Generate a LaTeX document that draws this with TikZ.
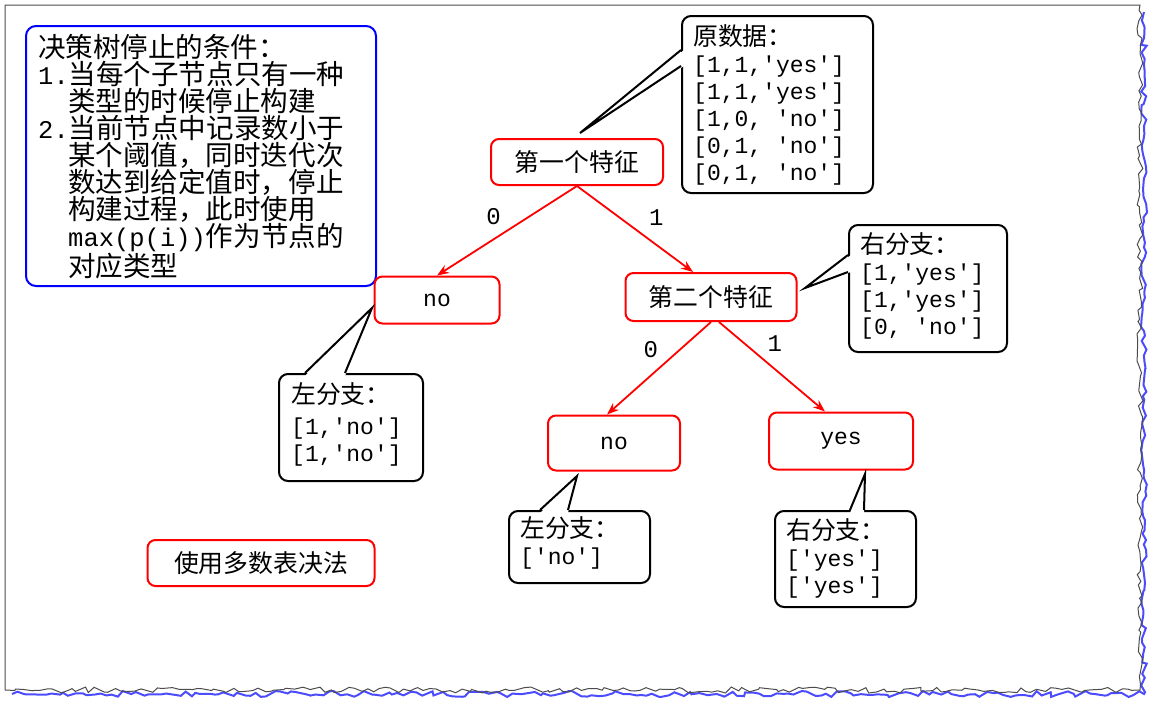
\documentclass[tikz,border=0pt]{standalone}
\usepackage{fontspec}
\setmainfont{Liberation Mono}
\newfontfamily\cjk{Noto Sans CJK SC}[Scale=1.08]
\usetikzlibrary{decorations.pathmorphing,arrows.meta}
\newcommand{\zh}[1]{{\cjk #1}}
\newcommand{\q}{\textquotesingle}
\begin{document}
\begin{tikzpicture}[x=1pt,y=-1pt,
  redbox/.style={draw=red,line width=2pt,rounded corners=8pt,fill=white,font=\fontsize{23}{26}\selectfont},
  callout/.style={draw=black,line width=2pt,rounded corners=9pt,fill=white},
  ctext/.style={anchor=north west,align=left,inner sep=0pt,font=\fontsize{23}{27}\selectfont},
  edge/.style={draw=red,line width=1.8pt,-{Stealth[length=12pt,width=9pt]}},
  elab/.style={font=\fontsize{24}{26}\selectfont}]
\useasboundingbox (0,0) rectangle (1158,715);
\begin{scope}[shift={(4,4)}]
\draw[blue!70,line width=2pt,decorate,decoration={random steps,segment length=6,amplitude=3}] (1140,8) -- (1140,690) -- (8,690);
\end{scope}
\draw[gray!60!black,line width=1pt] (5,690) -- (5,5) -- (1140,5)
  decorate[decoration={random steps,segment length=6,amplitude=3}]{-- (1140,690) -- (5,690)};

% left note
\node[draw=blue,line width=2pt,rounded corners=10pt,minimum width=350,minimum height=260,anchor=north west] (note) at (25,25) {};
\node[ctext,font=\fontsize{25.5}{27}\selectfont] (notetext) at (38,34) {\zh{决策树停止的条件：}\\
1.\zh{当每个子节点只有一种}\\
\hspace*{30pt}\zh{类型的时候停止构建}\\
2.\zh{当前节点中记录数小于}\\
\hspace*{30pt}\zh{某个阈值，同时迭代次}\\
\hspace*{30pt}\zh{数达到给定值时，停止}\\
\hspace*{30pt}\zh{构建过程，此时使用}\\
\hspace*{30pt}max(p(i))\zh{作为节点的}\\
\hspace*{30pt}\zh{对应类型}};

% tree nodes
\node[redbox,minimum width=172,minimum height=46] (f1) at (577,162) {\zh{第一个特征}};
\node[redbox,minimum width=125,minimum height=47] (no1) at (437,300) {no};
\node[redbox,minimum width=171,minimum height=48] (f2) at (711,297) {\zh{第二个特征}};
\node[redbox,minimum width=132,minimum height=55] (no2) at (614,443) {no};
\node[redbox,minimum width=144,minimum height=57] (yes) at (841,441) {yes};
\node[redbox,minimum width=227,minimum height=46] (vote) at (261,563) {\zh{使用多数表决法}};

\draw[edge] (f1.south) -- (no1.north) node[elab,pos=0.5,above left=2pt] (l0) {0};
\draw[edge] (f1.south) -- ([xshift=-18]f2.north) node[elab,pos=0.55,above right=4pt] (l1) {1};
\draw[edge] (f2.south) -- ([xshift=-7]no2.north) node[elab,pos=0.45,above left=2pt] (l2) {0};
\draw[edge] ([xshift=8]f2.south) -- ([xshift=-16]yes.north) node[elab,pos=0.4,above right=2pt] (l3) {1};

% callouts
\node[callout,minimum width=191,minimum height=177,anchor=north west] (orig) at (681,15) {};
\coordinate (origtip) at (580,133);
\fill[white] (684,50) -- (origtip) -- (684,66) -- cycle;
\draw[line width=2pt] (681,50) -- (origtip) -- (681,66);
\node[ctext] (origtext) at (693,24) {\zh{原数据：}\\{}[1,1,\q yes\q]\\{}[1,1,\q yes\q]\\{}[1,0, \q no\q]\\{}[0,1, \q no\q]\\{}[0,1, \q no\q]};

\node[callout,minimum width=158,minimum height=127,anchor=north west] (rb1) at (848,224) {};
\coordinate (rb1tip) at (805,288);
\fill[white] (851,255) -- (rb1tip) -- (851,272) -- cycle;
\draw[line width=2pt] (848,255) -- (rb1tip) -- (848,272);
\node[ctext] (rb1text) at (860,232) {\zh{右分支：}\\{}[1,\q yes\q]\\{}[1,\q yes\q]\\{}[0, \q no\q]};

\node[callout,minimum width=144,minimum height=107,anchor=north west] (lb1) at (278,373) {};
\coordinate (lb1tip) at (372,308);
\fill[white] (305,376) -- (lb1tip) -- (345,376) -- cycle;
\draw[line width=2pt] (305,373) -- (lb1tip) -- (345,373);
\node[ctext] (lb1text) at (291,382) {\zh{左分支：}\\[4pt]{}[1,\q no\q]\\{}[1,\q no\q]};

\node[callout,minimum width=141,minimum height=72,anchor=north west] (lb2) at (508,510) {};
\coordinate (lb2tip) at (577,476);
\fill[white] (540,513) -- (lb2tip) -- (568,513) -- cycle;
\draw[line width=2pt] (540,510) -- (lb2tip) -- (568,510);
\node[ctext] (lb2text) at (520,516) {\zh{左分支：}\\{}[\q no\q]};

\node[callout,minimum width=141,minimum height=96,anchor=north west] (rb2) at (774,510) {};
\coordinate (rb2tip) at (865,474);
\fill[white] (850,513) -- (rb2tip) -- (864,513) -- cycle;
\draw[line width=2pt] (850,510) -- (rb2tip) -- (864,510);
\node[ctext] (rb2text) at (786,518) {\zh{右分支：}\\{}[\q yes\q]\\{}[\q yes\q]};
\end{tikzpicture}
\end{document}
